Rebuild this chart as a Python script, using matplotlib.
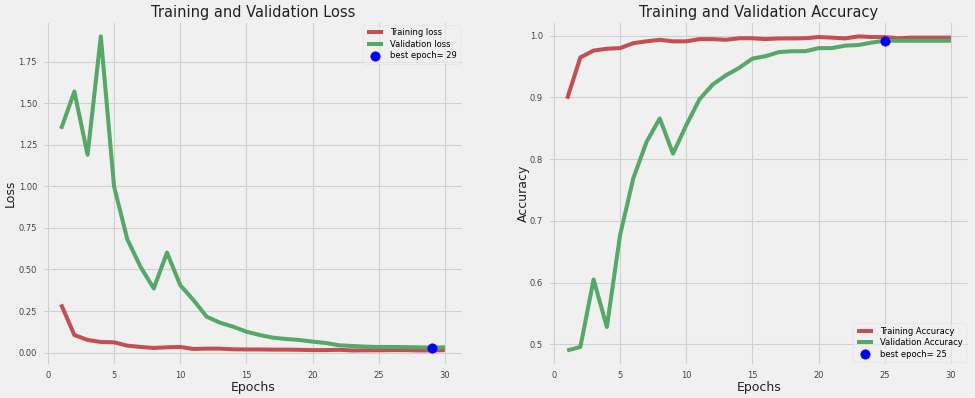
import matplotlib
matplotlib.use('Agg')
from matplotlib import pyplot as plt

plt.style.use('fivethirtyeight')

epochs = list(range(1, 31))

tr_loss = [0.290, 0.106, 0.076, 0.064, 0.062, 0.042, 0.034, 0.028, 0.032, 0.034,
           0.022, 0.024, 0.024, 0.020, 0.019, 0.019, 0.018, 0.018, 0.017, 0.015,
           0.015, 0.017, 0.013, 0.014, 0.014, 0.015, 0.015, 0.013, 0.013, 0.015]
val_loss = [1.346, 1.570, 1.190, 1.902, 1.000, 0.682, 0.516, 0.386, 0.602, 0.406,
            0.316, 0.216, 0.180, 0.156, 0.126, 0.106, 0.090, 0.082, 0.076, 0.066,
            0.058, 0.044, 0.040, 0.036, 0.034, 0.034, 0.033, 0.032, 0.030, 0.032]

tr_acc = [0.898, 0.965, 0.976, 0.979, 0.980, 0.988, 0.991, 0.9935, 0.991, 0.991,
          0.9946, 0.9946, 0.9935, 0.996, 0.996, 0.9946, 0.9957, 0.9957, 0.996, 0.998,
          0.997, 0.9957, 0.999, 0.998, 0.998, 0.996, 0.997, 0.997, 0.997, 0.997]
val_acc = [0.490, 0.4957, 0.605, 0.528, 0.677, 0.769, 0.828, 0.866, 0.809, 0.855,
           0.897, 0.921, 0.936, 0.948, 0.963, 0.967, 0.9735, 0.975, 0.975, 0.980,
           0.980, 0.984, 0.985, 0.989, 0.992, 0.992, 0.992, 0.992, 0.992, 0.992]

best_loss_epoch = 29
best_acc_epoch = 25

red = '#C44E52'
green = '#55A868'

fig = plt.figure(figsize=(9.75, 3.98), dpi=100)
ax1 = fig.add_axes([0.043, 0.080, 0.433, 0.868])
ax2 = fig.add_axes([0.562, 0.080, 0.433, 0.868])

ax1.plot(epochs, tr_loss, color=red, lw=2.9, label='Training loss')
ax1.plot(epochs, val_loss, color=green, lw=2.9, label='Validation loss')
ax1.scatter(best_loss_epoch, val_loss[best_loss_epoch - 1], s=45, c='blue', zorder=3,
            label='best epoch= ' + str(best_loss_epoch))
ax1.set_title('Training and Validation Loss', fontsize=10.5, pad=3, color='#222222')
ax1.set_xlabel('Epochs', fontsize=9, labelpad=1, color='#222222')
ax1.set_ylabel('Loss', fontsize=9, labelpad=1, color='#222222')
ax1.legend(fontsize=6, labelspacing=0.3, edgecolor='#dddddd', framealpha=0.6)

ax2.plot(epochs, tr_acc, color=red, lw=2.9, label='Training Accuracy')
ax2.plot(epochs, val_acc, color=green, lw=2.9, label='Validation Accuracy')
ax2.scatter(best_acc_epoch, val_acc[best_acc_epoch - 1] - 0.001, s=45, c='blue', zorder=3,
            label='best epoch= ' + str(best_acc_epoch))
ax2.set_title('Training and Validation Accuracy', fontsize=10.5, pad=3, color='#222222')
ax2.set_xlabel('Epochs', fontsize=9, labelpad=1, color='#222222')
ax2.set_ylabel('Accuracy', fontsize=9, labelpad=0, color='#222222')
ax2.legend(fontsize=6, loc='lower right', labelspacing=0.3, edgecolor='#dddddd', framealpha=0.6)

for ax in (ax1, ax2):
    ax.tick_params(labelsize=6, labelcolor='#444444')
    ax.grid(True, color='#d0d0d0', lw=0.8)

fig.savefig('out.png', dpi=100, facecolor=fig.get_facecolor())
